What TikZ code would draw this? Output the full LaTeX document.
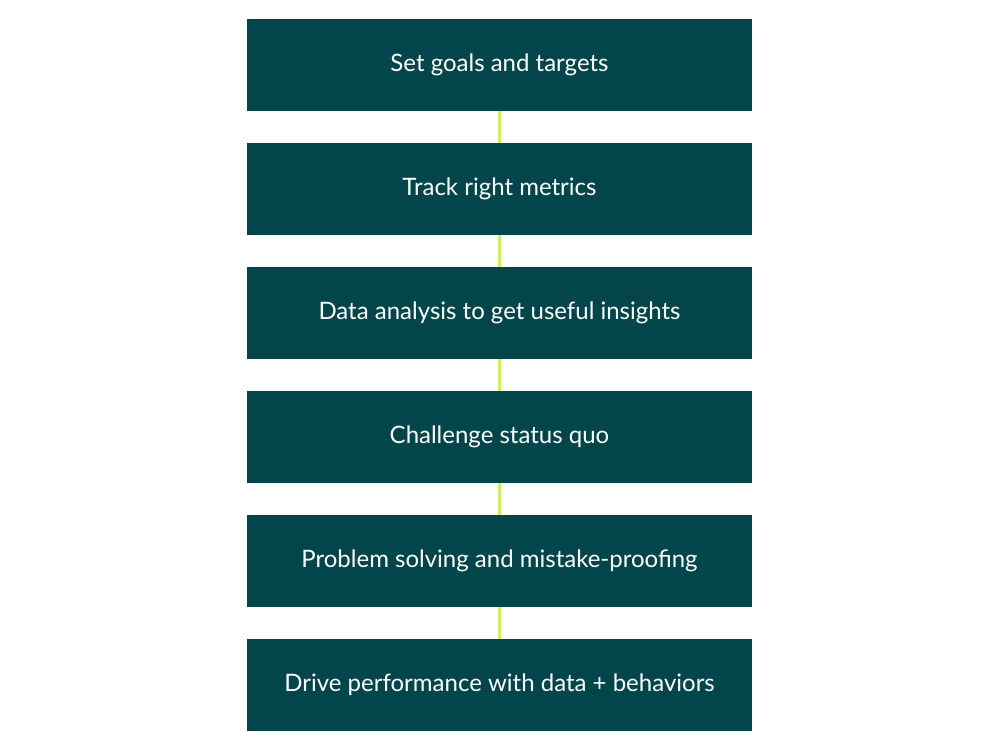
\documentclass[tikz,border=0pt]{standalone}
\usepackage{fontspec}
\setmainfont{Lato}
\definecolor{teal}{HTML}{02464B}
\definecolor{lime}{HTML}{CCF25A}
\begin{document}
\begin{tikzpicture}[x=1pt,y=-1pt,
  box/.style={fill=teal,text=white,minimum width=505pt,minimum height=92pt,inner sep=0pt,font=\fontsize{24}{28}\selectfont},
  link/.style={draw=lime,line width=3pt}]
\useasboundingbox (0,0) rectangle (1000,750);
\node[box] (a) at (499.5,65) {Set goals and targets};
\node[box] (b) at (499.5,189) {Track right metrics};
\node[box] (c) at (499.5,313) {Data analysis to get useful insights};
\node[box] (d) at (499.5,437) {Challenge status quo};
\node[box] (e) at (499.5,561) {Problem solving and mistake-proofing};
\node[box] (f) at (499.5,685) {Drive performance with data + behaviors};
\foreach \u/\v in {a/b,b/c,c/d,d/e,e/f} \draw[link] (\u.south) -- (\v.north);
\end{tikzpicture}
\end{document}
